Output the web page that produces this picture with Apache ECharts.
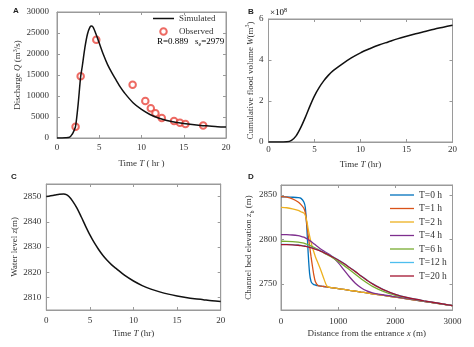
<!DOCTYPE html>
<html><head><meta charset="utf-8">
<script src="https://cdn.jsdelivr.net/npm/echarts@6/dist/echarts.min.js"></script>
<style>html,body{margin:0;padding:0;background:#fff}#c{width:474px;height:347px}</style>
</head><body><div id="c"></div>
<script>
// Panel A: discharge
const tSim = [0,1,1.5,1.8,2,2.2,2.5,2.8,3,3.3,3.6,3.9,4.1,4.3,4.6,5,5.5,6,6.5,7,7.5,8,9,10,11,12,13,14,15,16,17,18,19,20];
const qSim = [0,50,200,900,1700,2800,8000,14600,17200,21500,24700,26400,26650,26300,24800,22600,19800,17400,15500,13800,12100,10700,8400,6800,5600,4750,4150,3750,3450,3200,3000,2850,2700,2600];
const tObs = [2.2,2.8,4.65,8.95,10.45,11.1,11.65,12.4,13.85,14.55,15.2,17.3];
const qObs = [2700,14700,23400,12700,8800,7100,5900,4750,4050,3650,3350,3000];
// Panel B: cumulative volume (x1e8 m3)
const tB = [0,1,2,2.5,3,3.5,4,4.5,5,5.5,6,6.5,7,8,9,10,11,12,13,14,15,16,17,18,19,20];
const wB = [0,0,0.01,0.08,0.3,0.7,1.2,1.75,2.25,2.65,2.98,3.25,3.47,3.8,4.1,4.35,4.55,4.73,4.88,5.03,5.16,5.28,5.39,5.5,5.6,5.7];
// Panel C: water level
const tC = [0,0.5,1,1.5,2,2.3,2.6,3,3.5,4,4.5,5,5.5,6,6.5,7,7.5,8,9,10,11,12,13,14,15,16,17,18,19,20];
const zC = [2850.0,2850.3,2850.6,2850.9,2851.0,2850.8,2850.0,2848.3,2845.5,2842,2838.3,2834.8,2831.7,2829,2826.6,2824.6,2822.9,2821.5,2818.7,2816.5,2814.7,2813.3,2812.2,2811.3,2810.6,2810,2809.5,2809.1,2808.7,2808.4];
// Panel D: channel bed profiles
const xD = [0,100,200,300,350,400,425,450,475,500,525,550,575,600,650,700,750,800,850,900,1000,1100,1200,1300,1400,1500,1600,1800,2000,2200,2500,3000];
const zT0 = [2847.8,2847.6,2847.3,2846.8,2846,2842,2836,2815,2785,2762,2753,2750.5,2749.5,2749,2748.2,2747.7,2747.3,2746.8,2746.3,2745.9,2744.9,2744,2743,2742.1,2741.1,2740.2,2739.2,2737.3,2735.5,2733.6,2730.7,2726];
const zT1 = [2848,2847.3,2845.5,2842,2839,2835,2830,2818,2805,2793,2781,2770,2760,2753,2748.3,2747.7,2747.3,2746.8,2746.3,2745.9,2744.9,2744,2743,2742.1,2741.1,2740.2,2739.2,2737.3,2735.5,2733.6,2730.7,2726];
const zT2 = [2836,2835.5,2834.3,2832.5,2831,2829.5,2827,2821,2812,2804,2797,2791,2786,2781,2773,2765,2756,2748,2746.3,2745.9,2744.9,2744,2743,2742.1,2741.1,2740.2,2739.2,2737.3,2735.5,2733.6,2730.7,2726];
const zT4 = [2805.5,2805.4,2805,2804.2,2803.5,2802.5,2801.8,2801,2800,2799,2797.8,2796.5,2795.2,2794,2791.5,2789,2787,2785,2783,2780.5,2774,2766,2758,2751,2746,2742.5,2740.3,2737.8,2735.8,2733.8,2730.8,2726];
const zT6 = [2798,2797.9,2797.6,2797,2796.5,2795.8,2795.3,2794.8,2794.2,2793.5,2792.8,2792,2791.2,2790.4,2788.6,2786.8,2785,2783.2,2781.5,2779.6,2775.5,2771,2766,2761,2756,2751.5,2747.5,2741.5,2737.5,2734.5,2731,2726];
const zT12 = [2794.6,2794.5,2794.3,2793.8,2793.4,2792.9,2792.6,2792.3,2791.9,2791.5,2791,2790.5,2790,2789.5,2788.3,2787,2785.6,2784.1,2782.5,2780.8,2777.2,2773.2,2768.7,2764.2,2759.2,2754.7,2750.5,2743.6,2738.5,2735,2731.3,2726];
const zT20 = [2794.3,2794.2,2794,2793.5,2793.1,2792.6,2792.3,2792,2791.6,2791.2,2790.7,2790.2,2789.7,2789.2,2788,2786.7,2785.3,2783.8,2782.2,2780.5,2777,2773,2768.5,2764,2759,2754.5,2750.3,2743.5,2738.5,2735,2731.3,2726];
const dNames = ['T=0 h','T=1 h','T=2 h','T=4 h','T=6 h','T=12 h','T=20 h'];
const dColors = ['#0072BD','#D95319','#EDB120','#7E2F8E','#77AC30','#4DBEEE','#A2142F'];
const dSeries = [zT0,zT1,zT2,zT4,zT6,zT12,zT20];

const FF = 'Liberation Serif';
const AX = '#9a9a9a', TX = '#333';
const zip = (a,b) => a.map((v,i)=>[v,b[i]]);
const rich = {
  a:{fontFamily:FF,fontSize:9,color:TX,lineHeight:12},
  i:{fontFamily:FF,fontSize:9,color:TX,fontStyle:'italic',lineHeight:12},
  sup:{fontFamily:FF,fontSize:6,color:TX,lineHeight:6,verticalAlign:'top'},
  sub:{fontFamily:FF,fontSize:6,color:TX,lineHeight:6,verticalAlign:'bottom'}
};
function axesFor(g, xr, yr, xName, yName, xGap, yGap, xMargin, yMargin){
  const line = {show:true,onZero:false,lineStyle:{color:AX,width:1}};
  const base = (r)=>{
    const o = {type:'value',min:r.min,max:r.max,splitLine:{show:false}};
    if (r.interval) o.interval = r.interval;
    return o;
  };
  const lbl = (r,m)=>{
    const o = {fontFamily:FF,fontSize:9,color:TX,margin:m,formatter:(v)=>String(v)};
    if (r.custom) o.customValues = r.custom;
    return o;
  };
  const tk = (r)=>{ const o = {show:true,inside:true,length:3,lineStyle:{color:AX}}; if (r.custom) o.customValues = r.custom; return o; };
  const xs = [
    Object.assign(base(xr),{gridIndex:g,position:'bottom',axisLine:line,axisTick:tk(xr),axisLabel:lbl(xr,xMargin),
      name:xName,nameLocation:'middle',nameGap:xGap,nameTextStyle:{rich:rich}}),
    Object.assign(base(xr),{gridIndex:g,position:'top',axisLine:line,axisTick:tk(xr),axisLabel:{show:false}})
  ];
  const ys = [
    Object.assign(base(yr),{gridIndex:g,position:'left',axisLine:line,axisTick:tk(yr),axisLabel:lbl(yr,yMargin),
      name:yName,nameLocation:'middle',nameGap:yGap,nameTextStyle:{rich:rich}}),
    Object.assign(base(yr),{gridIndex:g,position:'right',axisLine:line,axisTick:tk(yr),axisLabel:{show:false}})
  ];
  return {xs,ys};
}
const A = axesFor(0,{min:0,max:20,interval:5},{min:0,max:30000,interval:5000},
  '{a|Time }{i|T}{a| ( hr )}','{a|Discharge }{i|Q}{a| (m}{sup|3}{a|/s)}',20,33,5,8);
const B = axesFor(1,{min:0,max:20,interval:5},{min:0,max:6,interval:2},
  '{a|Time }{i|T}{a| (hr)}','{a|Cumulative flood volume }{i|W}{a|(m}{sup|3}{a|)}',17,12,3,5);
const C = axesFor(2,{min:0,max:20,interval:5},{min:2805,max:2855,custom:[2810,2820,2830,2840,2850]},
  '{a|Time }{i|T}{a| (hr)}','{a|Water level }{i|z}{a|(m)}',18,26,6,5);
const D = axesFor(3,{min:0,max:3000,interval:1000},{min:2721,max:2861,custom:[2750,2800,2850]},
  '{a|Distance from the entrance }{i|x}{a| (m)}','{a|Channel bed elevation }{i|z}{sub|b}{a| (m)}',18,24,7,4);

const xAxis = [].concat(A.xs,B.xs,C.xs,D.xs);
const yAxis = [].concat(A.ys,B.ys,C.ys,D.ys);
const series = [
  {type:'line',name:'Simulated',xAxisIndex:0,yAxisIndex:0,data:zip(tSim,qSim),symbol:'none',smooth:0.3,lineStyle:{color:'#111',width:1.5},itemStyle:{color:'#111'}},
  {type:'scatter',name:'Observed',xAxisIndex:0,yAxisIndex:0,data:zip(tObs,qObs),symbol:'emptyCircle',symbolSize:6.5,itemStyle:{color:'#e8453c',borderColor:'#e8453c',borderWidth:1}},
  {type:'line',xAxisIndex:2,yAxisIndex:2,data:zip(tB,wB),symbol:'none',smooth:0.3,lineStyle:{color:'#111',width:1.5}},
  {type:'line',xAxisIndex:4,yAxisIndex:4,data:zip(tC,zC),symbol:'none',smooth:0.3,lineStyle:{color:'#111',width:1.5}}
];
dSeries.forEach((z,i)=>{
  series.push({type:'line',name:dNames[i],xAxisIndex:6,yAxisIndex:6,data:zip(xD,z),symbol:'none',smooth:0.25,
    lineStyle:{color:dColors[i],width:1.3},itemStyle:{color:dColors[i]}});
});
const lab = (t,x,y)=>({type:'text',left:x,top:y,style:{text:t,fontFamily:'Liberation Sans',fontWeight:'bold',fontSize:8,fill:'#222'}});
const gbox = {show:true,borderColor:AX,borderWidth:1,backgroundColor:'transparent'};
const option = {
  animation:false,
  grid:[
    Object.assign({left:57,top:12,width:169,height:126},gbox),
    Object.assign({left:268.5,top:19,width:184,height:123},gbox),
    Object.assign({left:46.3,top:184,width:174.4,height:126},gbox),
    Object.assign({left:281,top:185,width:171.5,height:125},gbox)
  ],
  xAxis, yAxis, series,
  legend:[
    {data:[{name:'Simulated',icon:'path://M0,0h21v1.5h-21z',itemStyle:{color:'#111'}},{name:'Observed',icon:'emptyCircle'}],
      left:153,top:14,padding:0,orient:'vertical',itemWidth:21,itemHeight:6.5,itemGap:4,
      textStyle:{fontFamily:FF,fontSize:9,color:TX}},
    {data:dNames.map((n,i)=>({name:n,icon:'path://M0,0h24v1.3h-24z',itemStyle:{color:dColors[i]}})),
      left:390,top:190,padding:0,orient:'vertical',itemWidth:24,itemHeight:9,itemGap:3.5,
      textStyle:{fontFamily:FF,fontSize:9.5,color:TX}}
  ],
  graphic:[
    lab('A',13,7),lab('B',248,8),lab('C',11,173),lab('D',248,173),
    {type:'text',left:157,top:37,style:{text:'{a|R=0.889   s}{sub|e}{a|=2979}',rich:rich}},
    {type:'text',left:270,top:7,style:{text:'{a|×10}{sup|8}',rich:rich}}
  ]
};
echarts.init(document.getElementById('c'),null,{renderer:'canvas'}).setOption(option);
</script></body></html>
